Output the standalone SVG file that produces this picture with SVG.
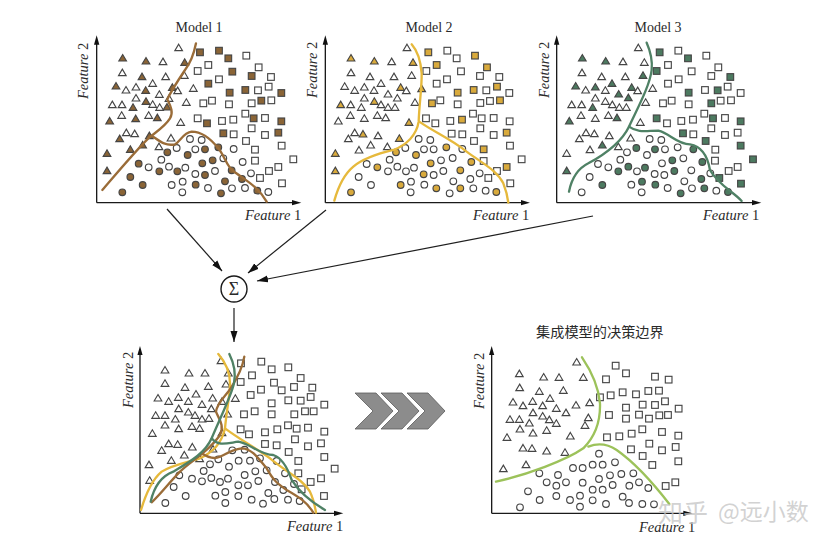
<svg xmlns="http://www.w3.org/2000/svg" width="834" height="545" viewBox="0 0 834 545">
<style>
text{font-family:"Liberation Serif","Times New Roman",serif;fill:#2a2a2a}
.title{font-size:14px;text-anchor:middle}
.axl{font-size:14.5px;font-style:italic}
.axl tspan{font-style:normal}
.sym{stroke:#454545;stroke-width:3.4;fill:#fff}
.brown{fill:#8a6436}
.gold{fill:#d9aa3c}
.green{fill:#4c7a60}
.axis{fill:none;stroke:#1a1a1a;stroke-width:4;marker-end:url(#ah)}
.cv{fill:none;stroke-width:7;stroke-linecap:round;stroke-linejoin:round}
.cb{stroke:#9a6c38}
.cy{stroke:#e6b93c}
.cg{stroke:#4f8165}
.cf{stroke:#9cc25a}
.conn{fill:none;stroke:#1f1f1f;stroke-width:1.2;marker-end:url(#arr)}
.wm{font-family:"Noto Sans CJK SC","Noto Sans",sans-serif;fill:#c4c4c4;fill-opacity:.75}
</style>
<defs>
<path id="t" d="M0-10.500L11.500 9H-11.500Z"/>
<rect id="s" x="-10" y="-10" width="20" height="20"/>
<circle id="c" r="10"/>
<marker id="ah" markerUnits="userSpaceOnUse" markerWidth="30" markerHeight="20" refX="2" refY="10" orient="auto"><path d="M0 2L28 10L0 18Z" fill="#111"/></marker>
<marker id="arr" markerUnits="userSpaceOnUse" markerWidth="12" markerHeight="8" refX="11" refY="4" orient="auto"><path d="M0 0.500L11 4L0 7.500Z" fill="#111"/></marker>
</defs>
<rect width="834" height="545" fill="#fff"/>

<g id="model-1">
<text class="title" x="199" y="32">Model 1</text>
<text class="axl" x="245" y="220">Feature <tspan>1</tspan></text>
<text class="axl" transform="translate(88 99) rotate(-90)">Feature <tspan>2</tspan></text>
<g transform="translate(70 10) scale(.3333)">
<path class="axis" d="M80 578V102"/><path class="axis" d="M80 578H668"/>
<g class="sym brown"><use href="#t" x="158" y="144"/><use href="#t" x="228" y="153"/><use href="#t" x="344" y="157"/><use href="#t" x="216" y="200"/><use href="#t" x="138" y="228"/><use href="#t" x="227" y="241"/><use href="#t" x="307" y="232"/><use href="#t" x="228" y="274"/><use href="#t" x="189" y="292"/><use href="#t" x="291" y="291"/><use href="#t" x="119" y="333"/><use href="#t" x="197" y="326"/><use href="#t" x="262" y="323"/><use href="#t" x="149" y="386"/><use href="#t" x="238" y="377"/><use href="#t" x="218" y="405"/><use href="#t" x="181" y="418"/><use href="#t" x="111" y="430"/><use href="#t" x="111" y="482"/>
<use href="#s" x="390" y="127"/><use href="#s" x="447" y="122"/><use href="#s" x="475" y="145"/><use href="#s" x="487" y="185"/><use href="#s" x="545" y="198"/><use href="#s" x="415" y="221"/><use href="#s" x="479" y="248"/><use href="#s" x="526" y="240"/><use href="#s" x="574" y="272"/><use href="#s" x="634" y="249"/><use href="#s" x="551" y="325"/><use href="#s" x="411" y="340"/><use href="#s" x="634" y="334"/><use href="#s" x="460" y="370"/><use href="#s" x="625" y="368"/>
<use href="#c" x="292" y="427"/><use href="#c" x="353" y="435"/><use href="#c" x="405" y="418"/><use href="#c" x="445" y="412"/><use href="#c" x="206" y="461"/><use href="#c" x="397" y="460"/><use href="#c" x="428" y="451"/><use href="#c" x="268" y="484"/><use href="#c" x="322" y="484"/><use href="#c" x="485" y="481"/><use href="#c" x="405" y="495"/><use href="#c" x="181" y="501"/><use href="#c" x="516" y="507"/><use href="#c" x="465" y="514"/><use href="#c" x="218" y="525"/><use href="#c" x="377" y="524"/><use href="#c" x="562" y="542"/><use href="#c" x="157" y="547"/><use href="#c" x="453" y="550"/></g>
<g class="sym"><use href="#t" x="326" y="113"/><use href="#t" x="279" y="155"/><use href="#t" x="157" y="188"/><use href="#t" x="287" y="200"/><use href="#t" x="343" y="196"/><use href="#t" x="248" y="220"/><use href="#t" x="168" y="240"/><use href="#t" x="198" y="231"/><use href="#t" x="323" y="242"/><use href="#t" x="370" y="235"/><use href="#t" x="268" y="253"/><use href="#t" x="198" y="264"/><use href="#t" x="127" y="284"/><use href="#t" x="156" y="284"/><use href="#t" x="248" y="283"/><use href="#t" x="269" y="292"/><use href="#t" x="349" y="277"/><use href="#t" x="155" y="316"/><use href="#t" x="236" y="316"/><use href="#t" x="332" y="337"/><use href="#t" x="169" y="368"/><use href="#t" x="194" y="371"/><use href="#t" x="303" y="384"/><use href="#t" x="267" y="410"/><use href="#t" x="297" y="265"/>
<use href="#s" x="529" y="137"/><use href="#s" x="415" y="165"/><use href="#s" x="383" y="183"/><use href="#s" x="566" y="172"/><use href="#s" x="447" y="208"/><use href="#s" x="603" y="201"/><use href="#s" x="564" y="241"/><use href="#s" x="596" y="230"/><use href="#s" x="400" y="280"/><use href="#s" x="426" y="272"/><use href="#s" x="477" y="283"/><use href="#s" x="545" y="280"/><use href="#s" x="604" y="271"/><use href="#s" x="526" y="311"/><use href="#s" x="383" y="325"/><use href="#s" x="456" y="333"/><use href="#s" x="490" y="329"/><use href="#s" x="585" y="324"/><use href="#s" x="545" y="355"/><use href="#s" x="491" y="373"/><use href="#s" x="585" y="375"/><use href="#s" x="528" y="393"/><use href="#s" x="555" y="419"/><use href="#s" x="635" y="407"/><use href="#s" x="555" y="452"/><use href="#s" x="670" y="448"/><use href="#s" x="625" y="471"/><use href="#s" x="597" y="483"/><use href="#s" x="570" y="504"/><use href="#s" x="636" y="520"/>
<use href="#c" x="360" y="387"/><use href="#c" x="395" y="390"/><use href="#c" x="320" y="414"/><use href="#c" x="376" y="418"/><use href="#c" x="491" y="417"/><use href="#c" x="274" y="449"/><use href="#c" x="236" y="472"/><use href="#c" x="297" y="470"/><use href="#c" x="346" y="473"/><use href="#c" x="460" y="445"/><use href="#c" x="518" y="456"/><use href="#c" x="376" y="492"/><use href="#c" x="435" y="483"/><use href="#c" x="543" y="490"/><use href="#c" x="338" y="515"/><use href="#c" x="305" y="525"/><use href="#c" x="414" y="534"/><use href="#c" x="486" y="535"/><use href="#c" x="525" y="534"/><use href="#c" x="595" y="546"/><use href="#c" x="337" y="547"/></g>
<path class="cv cb" d="M378 100C372 130 365 155 345 180C325 210 305 240 292 268C300 285 312 305 300 325C285 350 255 368 235 385C190 430 140 490 97 540"/>
<path class="cv cb" d="M245 377C265 390 285 410 315 403C330 395 340 368 365 365C395 365 425 390 445 415C465 440 470 470 490 483C525 510 565 530 590 575"/>
</g></g>

<g id="model-2">
<text class="title" x="429" y="32">Model 2</text>
<text class="axl" x="473" y="220">Feature <tspan>1</tspan></text>
<text class="axl" transform="translate(317 98) rotate(-90)">Feature <tspan>2</tspan></text>
<g transform="translate(300 10) scale(.3333)">
<path class="axis" d="M76 578V102"/><path class="axis" d="M76 578H664"/>
<g class="sym gold"><use href="#t" x="153" y="144"/><use href="#t" x="223" y="153"/><use href="#t" x="339" y="157"/><use href="#t" x="302" y="232"/><use href="#t" x="365" y="236"/><use href="#t" x="122" y="284"/><use href="#t" x="223" y="274"/><use href="#t" x="327" y="337"/><use href="#t" x="189" y="372"/><use href="#t" x="298" y="385"/><use href="#t" x="106" y="430"/><use href="#t" x="106" y="482"/>
<use href="#s" x="385" y="127"/><use href="#s" x="410" y="165"/><use href="#s" x="525" y="137"/><use href="#s" x="561" y="172"/><use href="#s" x="473" y="248"/><use href="#s" x="521" y="240"/><use href="#s" x="591" y="230"/><use href="#s" x="600" y="271"/><use href="#s" x="396" y="280"/><use href="#s" x="486" y="329"/><use href="#s" x="620" y="368"/><use href="#s" x="551" y="418"/><use href="#s" x="620" y="471"/>
<use href="#c" x="288" y="427"/><use href="#c" x="348" y="435"/><use href="#c" x="439" y="412"/><use href="#c" x="392" y="460"/><use href="#c" x="232" y="472"/><use href="#c" x="481" y="481"/><use href="#c" x="514" y="456"/><use href="#c" x="371" y="493"/><use href="#c" x="302" y="525"/><use href="#c" x="409" y="535"/><use href="#c" x="481" y="535"/><use href="#c" x="589" y="546"/><use href="#c" x="153" y="547"/></g>
<g class="sym"><use href="#t" x="321" y="113"/><use href="#t" x="275" y="155"/><use href="#t" x="153" y="188"/><use href="#t" x="210" y="200"/><use href="#t" x="282" y="200"/><use href="#t" x="335" y="196"/><use href="#t" x="134" y="229"/><use href="#t" x="164" y="241"/><use href="#t" x="193" y="231"/><use href="#t" x="222" y="241"/><use href="#t" x="243" y="220"/><use href="#t" x="319" y="242"/><use href="#t" x="264" y="252"/><use href="#t" x="193" y="264"/><use href="#t" x="292" y="264"/><use href="#t" x="152" y="284"/><use href="#t" x="243" y="284"/><use href="#t" x="264" y="292"/><use href="#t" x="285" y="292"/><use href="#t" x="184" y="292"/><use href="#t" x="345" y="277"/><use href="#t" x="115" y="333"/><use href="#t" x="151" y="316"/><use href="#t" x="193" y="325"/><use href="#t" x="232" y="316"/><use href="#t" x="257" y="323"/><use href="#t" x="164" y="368"/><use href="#t" x="145" y="386"/><use href="#t" x="234" y="377"/><use href="#t" x="212" y="405"/><use href="#t" x="177" y="420"/><use href="#t" x="262" y="410"/>
<use href="#s" x="442" y="122"/><use href="#s" x="470" y="145"/><use href="#s" x="379" y="183"/><use href="#s" x="483" y="184"/><use href="#s" x="540" y="198"/><use href="#s" x="598" y="201"/><use href="#s" x="410" y="221"/><use href="#s" x="441" y="208"/><use href="#s" x="559" y="241"/><use href="#s" x="628" y="249"/><use href="#s" x="421" y="271"/><use href="#s" x="473" y="283"/><use href="#s" x="541" y="279"/><use href="#s" x="570" y="273"/><use href="#s" x="519" y="311"/><use href="#s" x="378" y="325"/><use href="#s" x="406" y="340"/><use href="#s" x="451" y="333"/><use href="#s" x="545" y="325"/><use href="#s" x="581" y="324"/><use href="#s" x="629" y="334"/><use href="#s" x="541" y="355"/><use href="#s" x="455" y="371"/><use href="#s" x="487" y="373"/><use href="#s" x="581" y="375"/><use href="#s" x="522" y="393"/><use href="#s" x="630" y="407"/><use href="#s" x="551" y="453"/><use href="#s" x="665" y="448"/><use href="#s" x="591" y="483"/><use href="#s" x="565" y="504"/><use href="#s" x="631" y="520"/>
<use href="#c" x="356" y="387"/><use href="#c" x="391" y="390"/><use href="#c" x="316" y="414"/><use href="#c" x="372" y="418"/><use href="#c" x="401" y="418"/><use href="#c" x="487" y="417"/><use href="#c" x="269" y="449"/><use href="#c" x="458" y="444"/><use href="#c" x="423" y="451"/><use href="#c" x="200" y="462"/><use href="#c" x="292" y="470"/><use href="#c" x="342" y="473"/><use href="#c" x="264" y="484"/><use href="#c" x="318" y="484"/><use href="#c" x="401" y="495"/><use href="#c" x="430" y="483"/><use href="#c" x="539" y="490"/><use href="#c" x="176" y="501"/><use href="#c" x="511" y="507"/><use href="#c" x="460" y="514"/><use href="#c" x="213" y="525"/><use href="#c" x="333" y="515"/><use href="#c" x="373" y="524"/><use href="#c" x="520" y="535"/><use href="#c" x="557" y="542"/><use href="#c" x="332" y="547"/><use href="#c" x="449" y="550"/></g>
<path class="cv cy" d="M335 103C350 120 362 150 365 190C366 230 358 280 356 335C350 375 320 405 280 420C230 432 190 445 160 470C130 495 112 540 103 572"/>
<path class="cv cy" d="M358 335C400 365 450 385 500 425C550 462 590 480 610 520C620 545 623 560 625 578"/>
</g></g>

<g id="model-3">
<text class="title" x="658" y="32">Model 3</text>
<text class="axl" x="703" y="220">Feature <tspan>1</tspan></text>
<text class="axl" transform="translate(549 98) rotate(-90)">Feature <tspan>2</tspan></text>
<g transform="translate(530 10) scale(.3333)">
<path class="axis" d="M80 578V102"/><path class="axis" d="M80 578H668"/>
<g class="sym green"><use href="#t" x="157" y="144"/><use href="#t" x="227" y="153"/><use href="#t" x="339" y="196"/><use href="#t" x="246" y="220"/><use href="#t" x="137" y="228"/><use href="#t" x="196" y="231"/><use href="#t" x="305" y="232"/><use href="#t" x="266" y="252"/><use href="#t" x="295" y="263"/><use href="#t" x="188" y="292"/><use href="#t" x="118" y="333"/><use href="#t" x="261" y="323"/><use href="#t" x="217" y="405"/><use href="#t" x="110" y="482"/>
<use href="#s" x="389" y="127"/><use href="#s" x="474" y="145"/><use href="#s" x="380" y="183"/><use href="#s" x="601" y="201"/><use href="#s" x="476" y="248"/><use href="#s" x="563" y="241"/><use href="#s" x="544" y="280"/><use href="#s" x="380" y="325"/><use href="#s" x="549" y="325"/><use href="#s" x="632" y="334"/><use href="#s" x="459" y="370"/><use href="#s" x="527" y="393"/><use href="#s" x="632" y="407"/><use href="#s" x="669" y="448"/><use href="#s" x="568" y="504"/><use href="#s" x="633" y="521"/>
<use href="#c" x="319" y="414"/><use href="#c" x="375" y="418"/><use href="#c" x="490" y="418"/><use href="#c" x="427" y="451"/><use href="#c" x="517" y="456"/><use href="#c" x="265" y="484"/><use href="#c" x="295" y="470"/><use href="#c" x="345" y="473"/><use href="#c" x="433" y="483"/><use href="#c" x="514" y="507"/><use href="#c" x="217" y="525"/><use href="#c" x="336" y="515"/><use href="#c" x="376" y="524"/><use href="#c" x="452" y="550"/><use href="#c" x="523" y="535"/><use href="#c" x="594" y="546"/></g>
<g class="sym"><use href="#t" x="325" y="113"/><use href="#t" x="279" y="155"/><use href="#t" x="343" y="157"/><use href="#t" x="156" y="188"/><use href="#t" x="215" y="200"/><use href="#t" x="286" y="200"/><use href="#t" x="167" y="240"/><use href="#t" x="226" y="241"/><use href="#t" x="323" y="242"/><use href="#t" x="368" y="235"/><use href="#t" x="196" y="264"/><use href="#t" x="347" y="277"/><use href="#t" x="226" y="274"/><use href="#t" x="125" y="284"/><use href="#t" x="155" y="284"/><use href="#t" x="247" y="284"/><use href="#t" x="268" y="292"/><use href="#t" x="289" y="292"/><use href="#t" x="153" y="316"/><use href="#t" x="196" y="325"/><use href="#t" x="235" y="316"/><use href="#t" x="331" y="337"/><use href="#t" x="168" y="368"/><use href="#t" x="193" y="371"/><use href="#t" x="148" y="386"/><use href="#t" x="238" y="377"/><use href="#t" x="302" y="384"/><use href="#t" x="265" y="410"/><use href="#t" x="180" y="419"/><use href="#t" x="110" y="430"/>
<use href="#s" x="445" y="122"/><use href="#s" x="529" y="137"/><use href="#s" x="414" y="165"/><use href="#s" x="485" y="184"/><use href="#s" x="565" y="172"/><use href="#s" x="544" y="198"/><use href="#s" x="414" y="221"/><use href="#s" x="446" y="208"/><use href="#s" x="525" y="240"/><use href="#s" x="593" y="230"/><use href="#s" x="632" y="249"/><use href="#s" x="399" y="280"/><use href="#s" x="425" y="272"/><use href="#s" x="476" y="283"/><use href="#s" x="572" y="272"/><use href="#s" x="603" y="271"/><use href="#s" x="523" y="311"/><use href="#s" x="411" y="340"/><use href="#s" x="454" y="333"/><use href="#s" x="489" y="329"/><use href="#s" x="585" y="324"/><use href="#s" x="544" y="355"/><use href="#s" x="490" y="373"/><use href="#s" x="585" y="375"/><use href="#s" x="623" y="368"/><use href="#s" x="556" y="419"/><use href="#s" x="555" y="452"/><use href="#s" x="623" y="471"/><use href="#s" x="596" y="483"/>
<use href="#c" x="359" y="387"/><use href="#c" x="394" y="390"/><use href="#c" x="291" y="427"/><use href="#c" x="405" y="418"/><use href="#c" x="443" y="412"/><use href="#c" x="351" y="435"/><use href="#c" x="271" y="449"/><use href="#c" x="460" y="445"/><use href="#c" x="396" y="460"/><use href="#c" x="204" y="462"/><use href="#c" x="235" y="472"/><use href="#c" x="321" y="484"/><use href="#c" x="484" y="481"/><use href="#c" x="374" y="492"/><use href="#c" x="403" y="495"/><use href="#c" x="541" y="490"/><use href="#c" x="179" y="501"/><use href="#c" x="463" y="514"/><use href="#c" x="304" y="524"/><use href="#c" x="413" y="534"/><use href="#c" x="486" y="535"/><use href="#c" x="559" y="542"/><use href="#c" x="155" y="547"/><use href="#c" x="335" y="547"/></g>
<path class="cv cg" d="M350 98C362 125 368 150 365 180C360 225 325 290 297 350C275 395 230 430 175 460C145 475 125 505 117 545"/>
<path class="cv cg" d="M297 350C325 370 350 362 385 362C420 370 440 402 480 403C520 410 535 450 540 480C565 525 610 545 635 573"/>
</g></g>

<g id="sum"><circle cx="234" cy="289" r="13" fill="#fff" stroke="#1a1a1a" stroke-width="1.4"/><text x="234" y="295" font-size="18" text-anchor="middle">Σ</text></g>

<g id="connectors">
<path class="conn" d="M167 209L222 271"/>
<path class="conn" d="M326 210L248 273"/>
<path class="conn" d="M593 216L257 281"/>
<path class="conn" d="M234 308V342"/>
</g>

<g id="ensemble">
<text class="axl" x="287" y="531">Feature <tspan>1</tspan></text>
<text class="axl" transform="translate(133 408) rotate(-90)">Feature <tspan>2</tspan></text>
<g transform="translate(110 340) scale(.3333)">
<path class="axis" d="M90 520V44"/><path class="axis" d="M90 520H674"/>
<g class="sym"><use href="#t" x="333" y="62"/><use href="#t" x="165" y="90"/><use href="#t" x="237" y="99"/><use href="#t" x="285" y="99"/><use href="#t" x="355" y="99"/><use href="#t" x="165" y="130"/><use href="#t" x="225" y="142"/><use href="#t" x="295" y="139"/><use href="#t" x="348" y="132"/><use href="#t" x="144" y="174"/><use href="#t" x="176" y="184"/><use href="#t" x="205" y="172"/><use href="#t" x="235" y="184"/><use href="#t" x="258" y="162"/><use href="#t" x="308" y="174"/><use href="#t" x="336" y="184"/><use href="#t" x="376" y="175"/><use href="#t" x="276" y="193"/><use href="#t" x="206" y="206"/><use href="#t" x="304" y="206"/><use href="#t" x="235" y="216"/><use href="#t" x="137" y="226"/><use href="#t" x="165" y="226"/><use href="#t" x="255" y="226"/><use href="#t" x="196" y="237"/><use href="#t" x="276" y="237"/><use href="#t" x="297" y="235"/><use href="#t" x="353" y="222"/><use href="#t" x="165" y="255"/><use href="#t" x="246" y="259"/><use href="#t" x="206" y="266"/><use href="#t" x="269" y="265"/><use href="#t" x="127" y="280"/><use href="#t" x="336" y="278"/><use href="#t" x="176" y="311"/><use href="#t" x="203" y="313"/><use href="#t" x="155" y="331"/><use href="#t" x="247" y="321"/><use href="#t" x="309" y="327"/><use href="#t" x="223" y="345"/><use href="#t" x="184" y="361"/><use href="#t" x="269" y="356"/><use href="#t" x="117" y="374"/><use href="#t" x="119" y="421"/>
<use href="#s" x="393" y="70"/><use href="#s" x="454" y="65"/><use href="#s" x="485" y="88"/><use href="#s" x="535" y="82"/><use href="#s" x="426" y="106"/><use href="#s" x="392" y="126"/><use href="#s" x="572" y="114"/><use href="#s" x="492" y="128"/><use href="#s" x="552" y="141"/><use href="#s" x="515" y="151"/><use href="#s" x="607" y="143"/><use href="#s" x="453" y="149"/><use href="#s" x="422" y="165"/><use href="#s" x="485" y="190"/><use href="#s" x="535" y="181"/><use href="#s" x="572" y="182"/><use href="#s" x="602" y="171"/><use href="#s" x="643" y="194"/><use href="#s" x="434" y="214"/><use href="#s" x="402" y="223"/><use href="#s" x="485" y="223"/><use href="#s" x="553" y="223"/><use href="#s" x="585" y="214"/><use href="#s" x="611" y="214"/><use href="#s" x="392" y="268"/><use href="#s" x="417" y="283"/><use href="#s" x="465" y="277"/><use href="#s" x="502" y="268"/><use href="#s" x="534" y="256"/><use href="#s" x="560" y="266"/><use href="#s" x="594" y="263"/><use href="#s" x="643" y="275"/><use href="#s" x="465" y="312"/><use href="#s" x="500" y="316"/><use href="#s" x="555" y="298"/><use href="#s" x="594" y="319"/><use href="#s" x="633" y="310"/><use href="#s" x="536" y="336"/><use href="#s" x="643" y="351"/><use href="#s" x="565" y="363"/><use href="#s" x="674" y="386"/><use href="#s" x="565" y="400"/><use href="#s" x="633" y="415"/><use href="#s" x="602" y="426"/><use href="#s" x="575" y="448"/><use href="#s" x="642" y="468"/>
<use href="#c" x="367" y="331"/><use href="#c" x="404" y="329"/><use href="#c" x="325" y="358"/><use href="#c" x="300" y="373"/><use href="#c" x="386" y="362"/><use href="#c" x="357" y="380"/><use href="#c" x="450" y="355"/><use href="#c" x="420" y="362"/><use href="#c" x="500" y="363"/><use href="#c" x="281" y="393"/><use href="#c" x="470" y="391"/><use href="#c" x="208" y="406"/><use href="#c" x="404" y="405"/><use href="#c" x="436" y="394"/><use href="#c" x="525" y="400"/><use href="#c" x="246" y="416"/><use href="#c" x="276" y="424"/><use href="#c" x="304" y="414"/><use href="#c" x="330" y="426"/><use href="#c" x="354" y="416"/><use href="#c" x="191" y="441"/><use href="#c" x="385" y="436"/><use href="#c" x="414" y="436"/><use href="#c" x="445" y="423"/><use href="#c" x="495" y="426"/><use href="#c" x="552" y="432"/><use href="#c" x="520" y="450"/><use href="#c" x="227" y="468"/><use href="#c" x="316" y="467"/><use href="#c" x="346" y="456"/><use href="#c" x="475" y="459"/><use href="#c" x="166" y="489"/><use href="#c" x="346" y="489"/><use href="#c" x="385" y="468"/><use href="#c" x="425" y="479"/><use href="#c" x="459" y="491"/><use href="#c" x="493" y="477"/><use href="#c" x="534" y="479"/><use href="#c" x="569" y="483"/></g>
<path class="cv cy" d="M325 42C345 65 360 95 360 130C360 165 350 210 345 265C335 310 310 335 270 355C220 370 185 375 155 395C125 420 105 470 93 510"/>
<path class="cv cy" d="M345 265C385 295 430 320 480 355C535 400 580 420 600 455C612 480 615 500 618 518"/>
<path class="cv cb" d="M403 50C398 80 385 110 362 145C345 170 320 190 318 215C325 235 345 255 330 285C320 300 310 310 300 320C270 350 235 370 210 395C180 425 150 465 125 487"/>
<path class="cv cb" d="M275 340C290 350 310 360 330 350C345 345 360 330 395 325C425 325 445 355 470 385C490 420 500 430 530 450C565 470 590 485 610 518"/>
<path class="cv cg" d="M358 42C372 70 378 100 372 130C365 165 330 235 305 295C285 340 240 365 190 395C150 410 130 450 122 485"/>
<path class="cv cg" d="M305 295C325 320 350 310 385 305C420 310 450 345 490 345C520 355 535 390 545 420C570 460 610 490 645 510"/>
</g></g>

<g id="chevrons" fill="#8c8c8c" stroke="#5a5a5a" stroke-width=".8">
<path d="M355 393H376L393 411L376 429H355L373 411Z"/>
<path d="M381 393H402L419 411L402 429H381L399 411Z"/>
<path d="M407 393H428L445 411L428 429H407L425 411Z"/>
</g>

<g id="ensemble-boundary">
<text x="536" y="337" font-size="14.200" style="font-family:'Noto Sans CJK SC','Liberation Serif',serif">集成模型的决策边界</text>
<text class="axl" x="639" y="532">Feature <tspan>1</tspan></text>
<text class="axl" transform="translate(484 409) rotate(-90)">Feature <tspan>2</tspan></text>
<g transform="translate(460 320) scale(.3333)">
<path class="axis" d="M95 580V104"/><path class="axis" d="M95 580H672"/>
<g class="sym"><use href="#t" x="350" y="126"/><use href="#t" x="178" y="161"/><use href="#t" x="251" y="171"/><use href="#t" x="297" y="172"/><use href="#t" x="370" y="172"/><use href="#t" x="179" y="203"/><use href="#t" x="238" y="214"/><use href="#t" x="310" y="211"/><use href="#t" x="159" y="246"/><use href="#t" x="189" y="257"/><use href="#t" x="218" y="244"/><use href="#t" x="248" y="257"/><use href="#t" x="270" y="235"/><use href="#t" x="348" y="255"/><use href="#t" x="389" y="248"/><use href="#t" x="289" y="265"/><use href="#t" x="318" y="278"/><use href="#t" x="219" y="278"/><use href="#t" x="248" y="288"/><use href="#t" x="150" y="298"/><use href="#t" x="178" y="298"/><use href="#t" x="268" y="299"/><use href="#t" x="208" y="309"/><use href="#t" x="289" y="310"/><use href="#t" x="385" y="293"/><use href="#t" x="375" y="316"/><use href="#t" x="180" y="327"/><use href="#t" x="260" y="331"/><use href="#t" x="219" y="339"/><use href="#t" x="331" y="348"/><use href="#t" x="141" y="352"/><use href="#t" x="189" y="384"/><use href="#t" x="216" y="385"/><use href="#t" x="260" y="393"/><use href="#t" x="315" y="397"/><use href="#t" x="130" y="446"/><use href="#t" x="198" y="434"/>
<use href="#s" x="467" y="137"/><use href="#s" x="498" y="160"/><use href="#s" x="438" y="178"/><use href="#s" x="585" y="170"/><use href="#s" x="626" y="179"/><use href="#s" x="488" y="217"/><use href="#s" x="528" y="223"/><use href="#s" x="565" y="213"/><use href="#s" x="597" y="212"/><use href="#s" x="452" y="226"/><use href="#s" x="420" y="232"/><use href="#s" x="615" y="244"/><use href="#s" x="548" y="254"/><use href="#s" x="585" y="255"/><use href="#s" x="498" y="263"/><use href="#s" x="656" y="266"/><use href="#s" x="447" y="285"/><use href="#s" x="498" y="296"/><use href="#s" x="537" y="284"/><use href="#s" x="567" y="296"/><use href="#s" x="598" y="286"/><use href="#s" x="624" y="285"/><use href="#s" x="441" y="352"/><use href="#s" x="478" y="349"/><use href="#s" x="515" y="341"/><use href="#s" x="547" y="328"/><use href="#s" x="606" y="336"/><use href="#s" x="655" y="347"/><use href="#s" x="568" y="371"/><use href="#s" x="647" y="381"/><use href="#s" x="513" y="388"/><use href="#s" x="606" y="391"/><use href="#s" x="548" y="408"/><use href="#s" x="577" y="435"/><use href="#s" x="655" y="424"/><use href="#s" x="617" y="498"/><use href="#s" x="646" y="487"/>
<use href="#c" x="417" y="401"/><use href="#c" x="339" y="444"/><use href="#c" x="368" y="444"/><use href="#c" x="398" y="434"/><use href="#c" x="428" y="434"/><use href="#c" x="465" y="427"/><use href="#c" x="238" y="460"/><use href="#c" x="294" y="465"/><use href="#c" x="450" y="466"/><use href="#c" x="484" y="462"/><use href="#c" x="520" y="460"/><use href="#c" x="417" y="477"/><use href="#c" x="260" y="487"/><use href="#c" x="318" y="487"/><use href="#c" x="368" y="488"/><use href="#c" x="289" y="497"/><use href="#c" x="458" y="495"/><use href="#c" x="508" y="497"/><use href="#c" x="537" y="487"/><use href="#c" x="565" y="504"/><use href="#c" x="204" y="514"/><use href="#c" x="398" y="509"/><use href="#c" x="428" y="509"/><use href="#c" x="289" y="528"/><use href="#c" x="360" y="527"/><use href="#c" x="488" y="530"/><use href="#c" x="239" y="540"/><use href="#c" x="330" y="540"/><use href="#c" x="398" y="541"/><use href="#c" x="438" y="552"/><use href="#c" x="507" y="549"/><use href="#c" x="547" y="552"/><use href="#c" x="582" y="553"/><use href="#c" x="180" y="562"/><use href="#c" x="360" y="560"/></g>
<path class="cv cf" d="M366 112C385 140 415 190 420 250C422 310 400 355 370 385C320 420 200 465 108 485"/>
<path class="cv cf" d="M385 380C410 370 440 370 470 390C520 425 580 490 628 552"/>
</g></g>

<text class="wm" x="658" y="522" font-size="25">知乎</text>
<text class="wm" x="718" y="520" font-size="23">@远小数</text>
</svg>
